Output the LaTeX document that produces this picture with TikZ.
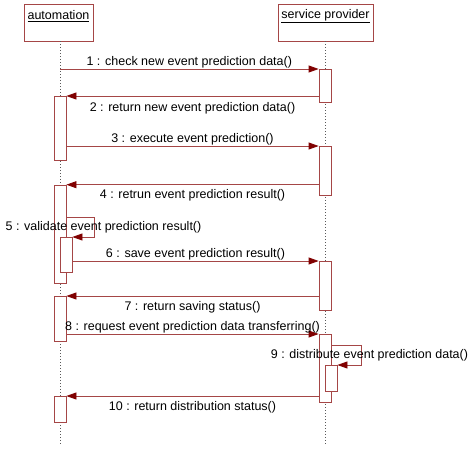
\documentclass[tikz,border=0pt]{standalone}
\usepackage{fontspec}
\setmainfont{Liberation Sans}
\usepackage{xcolor}
\usepackage{tikz}
\usetikzlibrary{arrows.meta}
\definecolor{umlline}{RGB}{165,70,70}
\definecolor{umlhead}{RGB}{128,0,0}
\newcommand{\msgfont}{\fontsize{12.5pt}{14pt}\selectfont}

\begin{document}
\begin{tikzpicture}[x=1pt, y=-1pt, line width=0.8pt,
    head/.style={draw=umlline, fill=white, minimum width=69pt, minimum height=37pt, inner sep=0pt},
    act/.style={draw=umlline, fill=white, minimum width=12pt, inner sep=0pt, anchor=north},
    life/.style={line width=0.6pt, gray!70!black, dash pattern=on 1pt off 2pt},
    msg/.style={umlline, -{Triangle[length=10pt, width=7pt, color=umlhead, fill=umlhead]}},
    txt/.style={font=\msgfont, text=black, inner sep=1pt}]
        \useasboundingbox (0,0) rectangle (474,455);

        % heads and lifelines
        \node[head] (autohead) at (58.5, 22.5) {};
        \node[head, minimum width=95pt] (provhead) at (325.5, 22.5) {};
        \node[txt] (autoname) at (58.5, 16) {\underline{automation}};
        \node[txt] (provname) at (325.5, 16) {\underline{service provider}};
        \coordinate (autoend) at (60, 445);
        \coordinate (provend) at (325, 445);
        \draw[life] (autoend |- autohead.south) -- (autoend);
        \draw[life] (provend |- provhead.south) -- (provend);

        % activations
        \node[act, minimum height=33pt]   (s1)  at (325, 69)    {};
        \node[act, minimum height=64pt]   (a1)  at (60, 96)     {};
        \node[act, minimum height=49pt]   (s2)  at (325, 146)   {};
        \node[act, minimum height=98pt]   (a2)  at (60, 184.7)  {};
        \node[act, minimum height=35pt]   (a2x) at (66, 237)    {};
        \node[act, minimum height=49pt]   (s3)  at (325, 261)   {};
        \node[act, minimum height=44.7pt] (a3)  at (60, 296)    {};
        \node[act, minimum height=68pt]   (s4)  at (325, 334)   {};
        \node[act, minimum height=26pt]   (s4x) at (331, 365)   {};
        \node[act, minimum height=25.7pt] (a4)  at (60, 396)    {};
        \coordinate (m5) at (94, 217.7);
        \coordinate (m9) at (361, 345.7);

        % messages
        \draw[msg] (autoend |- s1.north) -- node[txt, midway, above=0pt] {1 : check new event prediction data()} (s1.north west);
        \draw[msg] (s1.west |- a1.north) -- node[txt, midway, below=5pt] {2 : return new event prediction data()} (a1.north east);
        \draw[msg] (a1.east |- s2.north) -- node[txt, midway, above=0pt] {3 : execute event prediction()} (s2.north west);
        \draw[msg] (s2.west |- a2.north) -- node[txt, midway, below=3pt] {4 : retrun event prediction result()} (a2.north east);
        \draw[msg] (a2.east |- m5) -- (m5) |- (a2x.north east);
        \node[txt] (lbl5) at (103.5, 227) {5 : validate event prediction result()};
        \draw[msg] (a2x.east |- s3.north) -- node[txt, midway, above=0pt] {6 : save event prediction result()} (s3.north west);
        \draw[msg] (s3.west |- a3.north) -- node[txt, midway, below=4pt] {7 : return saving status()} (a3.north east);
        \draw[msg] (a3.east |- s4.north) -- node[txt, midway, above=0pt] {8 : request event prediction data transferring()} (s4.north west);
        \draw[msg] (s4.east |- m9) -- (m9) |- (s4x.north east);
        \node[txt] (lbl9) at (369.5, 355) {9 : distribute event prediction data()};
        \draw[msg] (s4.west |- a4.north) -- node[txt, midway, below=4pt] {10 : return distribution status()} (a4.north east);
      \end{tikzpicture}
\end{document}
